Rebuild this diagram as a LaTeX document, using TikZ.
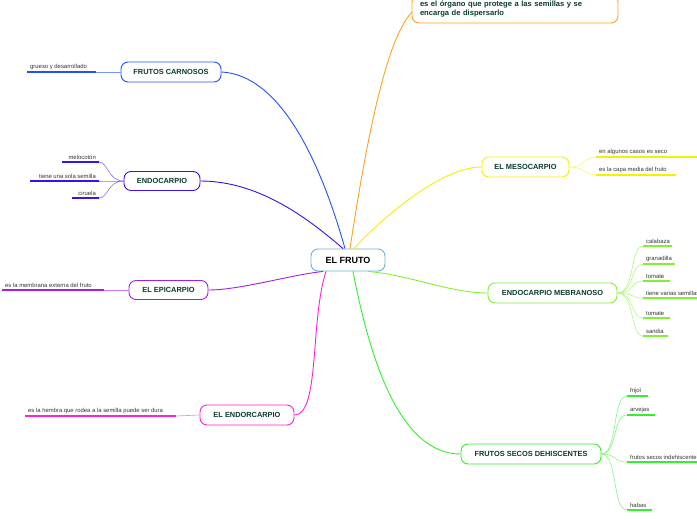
\documentclass[tikz,border=0pt]{standalone}
\usepackage{fontspec}
\setmainfont{Liberation Sans}
\definecolor{cO}{HTML}{FFA020}
\definecolor{cB}{HTML}{2050FF}
\definecolor{cI}{HTML}{3A10EE}
\definecolor{cP}{HTML}{A020E8}
\definecolor{cM}{HTML}{FF20D8}
\definecolor{cY}{HTML}{F4F000}
\definecolor{cG}{HTML}{80F030}
\definecolor{cG2}{HTML}{30F030}
\definecolor{cC}{HTML}{6AAED8}
\definecolor{txt}{HTML}{0B3B2E}
\begin{document}
\begin{tikzpicture}[x=1pt,y=-1pt,
  box/.style={draw=#1,line width=0.9pt,rounded corners=7pt,fill=white,font=\fontsize{7.4}{8.5}\selectfont\bfseries,text=txt,inner sep=0pt},
  leaf/.style={font=\fontsize{5.9}{7}\selectfont,text=black!80,inner sep=1pt,anchor=south west},
  con/.style={draw=#1,line width=0.9pt},
  thin/.style={draw=#1!60,line width=0.6pt},
  ul/.style={draw=#1,line width=1.3pt}]
\useasboundingbox (0,0) rectangle (697,520);
\clip (0,0) rectangle (697,520);
\node[box=cC,minimum width=74pt,minimum height=22pt,font=\fontsize{9}{10}\selectfont\bfseries,text=black] (c) at (348,260) {EL FRUTO};
\node[box=cO,minimum width=206pt,minimum height=28pt,align=left,text width=190pt,font=\fontsize{7.6}{9}\selectfont\bfseries] (o) at (515,9) {es el órgano que protege a las semillas y se\\encarga de dispersarlo};
\node[box=cB,minimum width=100pt,minimum height=20pt] (fc) at (171,72) {FRUTOS CARNOSOS};
\node[box=cI,minimum width=76pt,minimum height=19pt] (en) at (162,181) {ENDOCARPIO};
\node[box=cP,minimum width=79pt,minimum height=19pt] (ep) at (168.5,290) {EL EPICARPIO};
\node[box=cM,minimum width=94pt,minimum height=20pt] (ed) at (247,415) {EL ENDORCARPIO};
\node[box=cY,minimum width=87pt,minimum height=20pt] (me) at (525.5,167) {EL MESOCARPIO};
\node[box=cG,minimum width=129pt,minimum height=20pt] (em) at (552.5,293) {ENDOCARPIO MEBRANOSO};
\node[box=cG2,minimum width=140pt,minimum height=20pt] (fs) at (531,454) {FRUTOS SECOS DEHISCENTES};
\draw[con=cO] (c.north) ++(2,0) .. controls (365,150) and (385,40) .. (412,12);
\draw[con=cB] (c.north) ++(-3,0) .. controls (320,160) and (280,75) .. (fc.east);
\draw[con=cI] (c.north) ++(-5,0) .. controls (310,220) and (260,181) .. (en.east);
\draw[con=cP] (c.south) ++(-25,0) .. controls (290,275) and (240,290) .. (ep.east);
\draw[con=cM] (c.south) ++(-22,0) .. controls (310,320) and (320,415) .. (ed.east);
\draw[con=cY] (c.north) ++(6,0) .. controls (380,220) and (440,167) .. (me.west);
\draw[con=cG] (c.south) ++(20,0) .. controls (410,275) and (450,293) .. (em.west);
\draw[con=cG2] (c.south) ++(5,0) .. controls (370,360) and (400,454) .. (fs.west);
\draw[thin=cB] (fc.west) -- (96,72);
\draw[ul=cB] (27,72) -- (96,72);
\node[leaf] (l1) at (29,71) {grueso y desarrollado};
\foreach \y/\x/\t/\n in {162/62/melocotón/e1,181/30/tiene una sola semilla/e2,198/72/ciruela/e3}{
  \draw[thin=cI] (en.west) .. controls (108,181) and (108,\y) .. (99,\y);
  \draw[ul=cI] (\x,\y) -- (99,\y);
  \node[leaf,anchor=south east] (\n) at (97,\y-1) {\t};}
\draw[thin=cP] (ep.west) -- (104,290);
\draw[ul=cP] (2,290) -- (104,290);
\node[leaf] (p1) at (4,289) {es la membrana externa del fruto};
\draw[thin=cM] (ed.west) -- (176,416);
\draw[ul=cM] (25,416) -- (176,416);
\node[leaf] (m1) at (27,415) {es la hembra que rodea a la semilla puede ser dura};
\foreach \y/\x/\t/\n in {157/697/en algunos casos es seco/y1,175/676/es la capa media del fruto/y2}{
  \draw[thin=cY] (me.east) .. controls (585,167) and (585,\y) .. (596,\y);
  \draw[ul=cY] (596,\y) -- (\x,\y);
  \node[leaf] (\n) at (598,\y-1) {\t};}
\foreach \y/\x/\t/\n in {246/672/calabaza/g1,264/675/granadilla/g2,281/670/tomate/g3,298/697/tiene varias semillas/g4,318/670/tomate/g5,336/668/sandia/g6}{
  \draw[thin=cG] (em.east) .. controls (635,293) and (630,\y) .. (643,\y);
  \draw[ul=cG] (643,\y) -- (\x,\y);
  \node[leaf] (\n) at (645,\y-1) {\t};}
\foreach \y/\x/\t/\n in {396/648/frijol/s1,415/655/arvejas/s2,462/697/frutos secos indehiscentes/s3,510/652/habas/s4}{
  \draw[thin=cG2] (fs.east) .. controls (618,454) and (612,\y) .. (627,\y);
  \draw[ul=cG2] (627,\y) -- (\x,\y);
  \node[leaf] (\n) at (629,\y-1) {\t};}
\end{tikzpicture}
\end{document}
